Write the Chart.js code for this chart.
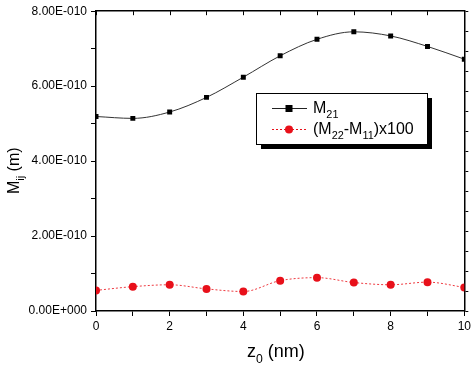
<!DOCTYPE html>
<html>
<head>
<meta charset="utf-8">
<script src="https://cdn.jsdelivr.net/npm/chart.js@4"></script>
<style>
  html, body { margin: 0; padding: 0; background: #fff; }
  #wrap { width: 474px; height: 368px; position: relative; }
</style>
</head>
<body>
<div id="wrap"><canvas id="myChart"></canvas></div>
<script>
const zValues = [0, 1, 2, 3, 4, 5, 6, 7, 8, 9, 10];
const m21 = [5.19e-10, 5.14e-10, 5.31e-10, 5.70e-10, 6.24e-10, 6.81e-10, 7.25e-10, 7.45e-10, 7.34e-10, 7.06e-10, 6.72e-10];
const diffX100 = [0.55e-10, 0.65e-10, 0.70e-10, 0.59e-10, 0.52e-10, 0.81e-10, 0.89e-10, 0.76e-10, 0.70e-10, 0.77e-10, 0.63e-10];
const yTickLabels = ["0.00E+000", "2.00E-010", "4.00E-010", "6.00E-010", "8.00E-010"];
const xTickLabels = ["0", "2", "4", "6", "8", "10"];

const FONT = "'Liberation Sans', Arial, sans-serif";

// draws text with subscript parts, returns end x
const drawParts = (ctx, parts, x, y, size) => {
    parts.forEach(([txt, sub]) => {
        ctx.font = (sub ? size * 0.68 : size) + "px " + FONT;
        ctx.fillText(txt, x, sub ? y + size * 0.33 : y);
        x += ctx.measureText(txt).width;
    });
    return x;
};

const extras = {
    id: "extras",
    afterDraw(chart) {
        const ctx = chart.ctx;
        const area = chart.chartArea;
        const xs = chart.scales.x;
        ctx.save();

        // inward ticks on the top axis
        ctx.strokeStyle = "#000";
        ctx.lineWidth = 1;
        ctx.beginPath();
        zValues.forEach((z) => {
            const px = Math.round(xs.getPixelForValue(z)) + 0.5;
            ctx.moveTo(px, area.top);
            ctx.lineTo(px, area.top + 4);
        });
        ctx.stroke();

        ctx.fillStyle = "#000";
        ctx.textBaseline = "alphabetic";

        // x title
        drawParts(ctx, [["z", false], ["0", true], [" (nm)", false]], 247, 357, 18);

        // y title (rotated)
        ctx.save();
        ctx.translate(19, 194);
        ctx.rotate(-Math.PI / 2);
        drawParts(ctx, [["M", false], ["ij", true], [" (m)", false]], 0, 0, 16);
        ctx.restore();

        // legend box
        const bx = 256, by = 93, bw = 171, bh = 51;
        ctx.fillStyle = "#000";
        ctx.fillRect(bx + 5, by + 5, bw, bh);
        ctx.fillStyle = "#fff";
        ctx.fillRect(bx, by, bw, bh);
        ctx.strokeStyle = "#000";
        ctx.lineWidth = 1;
        ctx.strokeRect(bx + 0.5, by + 0.5, bw, bh);

        // row 1
        let ry = 108;
        ctx.strokeStyle = "#222";
        ctx.beginPath();
        ctx.moveTo(272, ry + 0.5);
        ctx.lineTo(307, ry + 0.5);
        ctx.stroke();
        ctx.fillStyle = "#000";
        ctx.fillRect(285.5, ry - 3, 7, 7);
        drawParts(ctx, [["M", false], ["21", true]], 313, ry + 5, 16);

        // row 2
        ry = 129;
        ctx.strokeStyle = "#e8101a";
        ctx.setLineDash([2, 2]);
        ctx.beginPath();
        ctx.moveTo(272, ry + 0.5);
        ctx.lineTo(307, ry + 0.5);
        ctx.stroke();
        ctx.setLineDash([]);
        ctx.fillStyle = "#e8101a";
        ctx.beginPath();
        ctx.arc(289, ry + 0.5, 4, 0, Math.PI * 2);
        ctx.fill();
        ctx.fillStyle = "#000";
        drawParts(ctx, [["(M", false], ["22", true], ["-M", false], ["11", true], [")x100", false]], 313, ry + 5, 16);

        ctx.restore();
    }
};

const ctx = document.getElementById("myChart");

const myChart = new Chart(ctx, {
    type: "line",
    data: {
        labels: zValues,
        datasets: [{
            label: "M21",
            data: zValues.map((z, i) => ({ x: z, y: m21[i] })),
            borderColor: "#333",
            borderWidth: 1,
            pointStyle: "rect",
            pointRadius: 3.5,
            pointBackgroundColor: "#000",
            pointBorderColor: "#000",
            pointBorderWidth: 0,
            cubicInterpolationMode: "monotone"
        }, {
            label: "(M22-M11)x100",
            data: zValues.map((z, i) => ({ x: z, y: diffX100[i] })),
            borderColor: "#ee3a40",
            borderWidth: 1,
            borderDash: [2, 2],
            pointStyle: "circle",
            pointRadius: 4,
            pointBackgroundColor: "#e8101a",
            pointBorderColor: "#e8101a",
            pointBorderWidth: 0,
            cubicInterpolationMode: "monotone"
        }]
    },
    options: {
        responsive: true,
        maintainAspectRatio: false,
        animation: false,
        layout: { padding: 0 },
        plugins: {
            legend: { display: false },
            tooltip: { enabled: false }
        },
        scales: {
            x: {
                type: "linear",
                position: "bottom",
                min: 0,
                max: 10,
                afterFit: (s) => { s.height = 57; },
                border: { color: "#000", width: 1.5 },
                grid: { drawOnChartArea: false, tickLength: 5, color: "#000" },
                ticks: {
                    stepSize: 1,
                    autoSkip: false,
                    maxRotation: 0,
                    maxTicksLimit: 20,
                    padding: 3,
                    color: "#000",
                    font: { family: FONT, size: 12 },
                    callback: (v) => (v % 2 === 0 ? xTickLabels[v / 2] : "")
                }
            },
            x2: {
                type: "linear",
                position: "top",
                min: 0,
                max: 10,
                afterFit: (s) => { s.height = 6; },
                border: { color: "#000", width: 1.5 },
                grid: { display: false },
                ticks: { display: false }
            },
            y: {
                type: "linear",
                position: "left",
                min: 0,
                max: 8e-10,
                afterFit: (s) => { s.width = 96; },
                border: { color: "#000", width: 1.5 },
                grid: { drawOnChartArea: false, tickLength: 5, color: "#000" },
                ticks: {
                    stepSize: 1e-10,
                    autoSkip: false,
                    maxTicksLimit: 20,
                    padding: 4,
                    color: "#000",
                    font: { family: FONT, size: 12 },
                    callback: (v, i) => (i % 2 === 0 ? yTickLabels[i / 2] : "")
                }
            },
            y2: {
                type: "linear",
                position: "right",
                min: 0,
                max: 15,
                afterFit: (s) => { s.width = 7; },
                border: { color: "#000", width: 1.5 },
                grid: { drawOnChartArea: false, tickLength: 4, color: "#000" },
                ticks: { display: false, stepSize: 1, maxTicksLimit: 20 }
            }
        }
    },
    plugins: [extras]
});
</script>
</body>
</html>
